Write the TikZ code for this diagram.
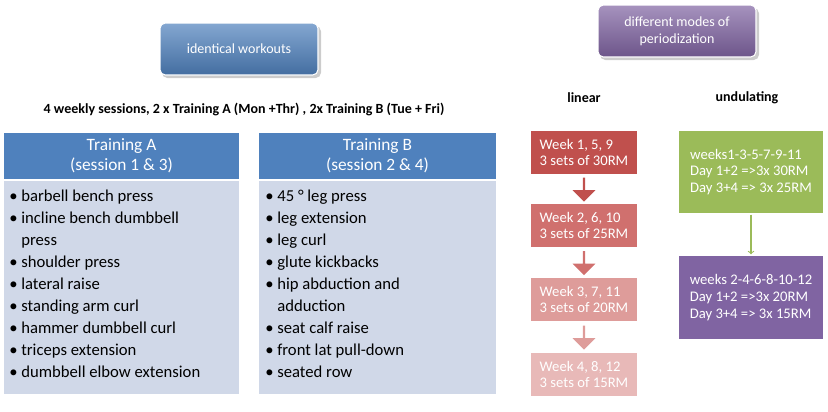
\documentclass[tikz,border=0pt]{standalone}
\usepackage{fontspec}
\setmainfont{Carlito}
\usetikzlibrary{shapes.arrows}
\definecolor{hdr}{HTML}{4F81BD}
\definecolor{bodyc}{HTML}{D0D8E8}
\definecolor{r1}{HTML}{C0504D}
\definecolor{r2}{HTML}{D0706E}
\definecolor{r3}{HTML}{DE9C9A}
\definecolor{r4}{HTML}{E8B9B8}
\definecolor{grn}{HTML}{9BBB59}
\definecolor{pur}{HTML}{8064A2}
\begin{document}
\begin{tikzpicture}[x=0.75pt,y=-0.75pt,
  topbox/.style={rounded corners=4pt,text=white,align=center,font=\fontsize{10.5}{13}\selectfont,draw=white,line width=0.8pt},
  hdrbox/.style={fill=hdr,draw=white,line width=1pt,text=white,align=center,font=\fontsize{13}{15}\selectfont},
  wk/.style={draw=white,line width=1pt,text=white,align=left,font=\fontsize{11}{12.5}\selectfont,inner sep=2pt},
  darr/.style={single arrow,shape border rotate=270,minimum width=17pt,single arrow head extend=2pt,inner sep=0pt,minimum height=18pt}]
\useasboundingbox (0,0) rectangle (828,411);
% top boxes
\fill[gray!40,rounded corners=4pt] (162,26) rectangle (321,78);
\node[topbox,top color=hdr!70!white,bottom color=hdr!85!black,minimum width=158*0.75pt,minimum height=52*0.75pt] (iw) at (239,49) {identical workouts};
\fill[gray!40,rounded corners=4pt] (600,8) rectangle (759,60);
\node[topbox,top color=pur!70!white,bottom color=pur!85!black,minimum width=158*0.75pt,minimum height=52*0.75pt] (dm) at (677,31) {different modes of\\periodization};
\node[font=\bfseries\fontsize{10.5}{12}\selectfont] (ws) at (244,109) {4 weekly sessions, 2 x Training A (Mon +Thr) , 2x Training B (Tue + Fri)};
\node[font=\bfseries\fontsize{10.5}{12}\selectfont] (lin) at (584,98) {linear};
\node[font=\bfseries\fontsize{10.5}{12}\selectfont] (und) at (747,98) {undulating};
% Training A
\node[hdrbox,minimum width=237*0.75pt,minimum height=48*0.75pt] (ta) at (121.5,156) {Training A\\(session 1 \& 3)};
\fill[bodyc,draw=white,line width=1pt] (3,180) rectangle (240,395);
\node[anchor=north west,align=left,font=\fontsize{12.5}{16.5}\selectfont,inner sep=0pt] (la) at (9,190) {%
\textbullet\ barbell bench press\\
\textbullet\ incline bench dumbbell\\\phantom{\textbullet\ }press\\
\textbullet\ shoulder press\\
\textbullet\ lateral raise\\
\textbullet\ standing arm curl\\
\textbullet\ hammer dumbbell curl\\
\textbullet\ triceps extension\\
\textbullet\ dumbbell elbow extension};
% Training B
\node[hdrbox,minimum width=239*0.75pt,minimum height=48*0.75pt] (tb) at (377.5,156) {Training B\\(session 2 \& 4)};
\fill[bodyc,draw=white,line width=1pt] (258,180) rectangle (497,395);
\node[anchor=north west,align=left,font=\fontsize{12.5}{16.5}\selectfont,inner sep=0pt] (lb) at (265,190) {%
\textbullet\ 45 ° leg press\\
\textbullet\ leg extension\\
\textbullet\ leg curl\\
\textbullet\ glute kickbacks\\
\textbullet\ hip abduction and\\\phantom{\textbullet\ }adduction\\
\textbullet\ seat calf raise\\
\textbullet\ front lat pull-down\\
\textbullet\ seated row};
% linear
\node[wk,fill=r1,minimum width=108*0.75pt,minimum height=45*0.75pt] (w1) at (584,152.5) {Week 1, 5, 9\\3 sets of 30RM};
\node[wk,fill=r2,minimum width=108*0.75pt,minimum height=45*0.75pt] (w2) at (584,225.5) {Week 2, 6, 10\\3 sets of 25RM};
\node[wk,fill=r3,minimum width=108*0.75pt,minimum height=45*0.75pt] (w3) at (584,299.5) {Week 3, 7, 11\\3 sets of 20RM};
\node[wk,fill=r4,minimum width=108*0.75pt,minimum height=45*0.75pt] (w4) at (584,374.5) {Week 4, 8, 12\\3 sets of 15RM};
\node[darr,fill=r1] (a1) at (584,189) {};
\node[darr,fill=r2] (a2) at (584,262.5) {};
\node[darr,fill=r3] (a3) at (584,337) {};
% undulating
\node[wk,fill=grn,minimum width=146*0.75pt,minimum height=84*0.75pt] (u1) at (751,172) {weeks1-3-5-7-9-11\\Day 1+2 =>3x 30RM\\Day 3+4 => 3x 25RM};
\node[wk,fill=pur,minimum width=146*0.75pt,minimum height=85*0.75pt] (u2) at (751,297.5) {weeks 2-4-6-8-10-12\\Day 1+2 =>3x 20RM\\Day 3+4 => 3x 15RM};
\draw[grn,->,line width=0.8pt] (u1) -- (u2);
\end{tikzpicture}
\end{document}
